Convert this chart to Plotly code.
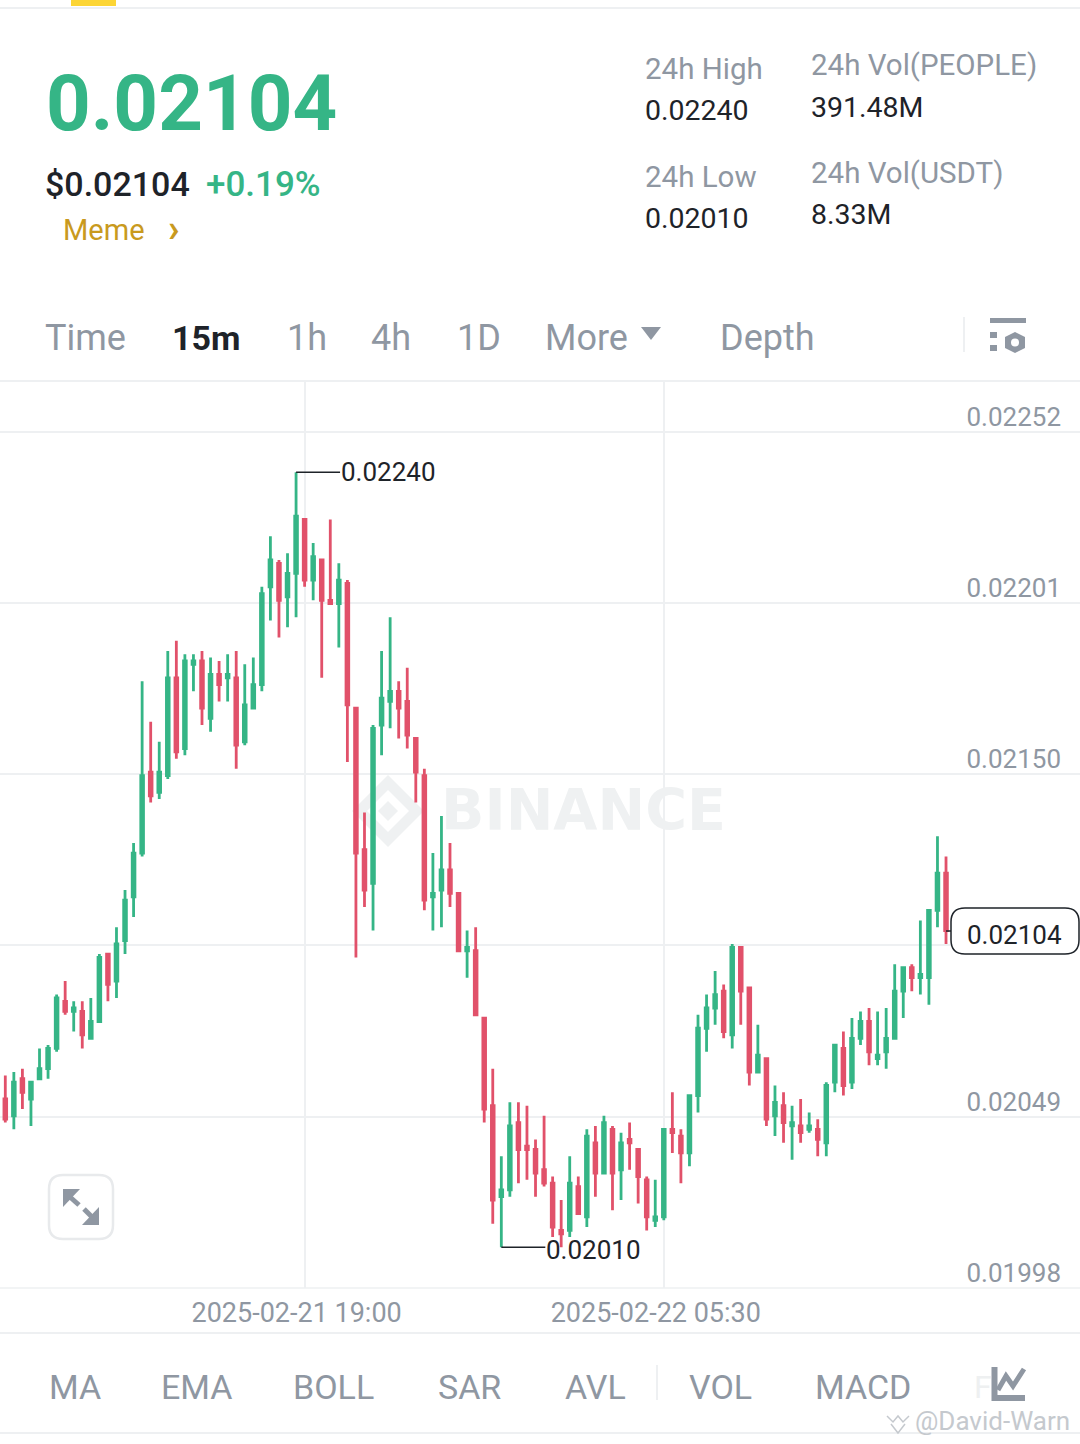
import pandas as pd
import plotly.graph_objects as go

# 15m candles
open_px = [
    0.02054, 0.02049, 0.02060, 0.02054, 0.02060, 0.02063, 0.02069, 0.02083, 0.02080, 0.02080,
    0.02072, 0.02077, 0.02097, 0.02089, 0.02101, 0.02114, 0.02127, 0.02151, 0.02145, 0.02150,
    0.02179, 0.02158, 0.02183, 0.02184, 0.02167, 0.02180, 0.02179, 0.02179, 0.02160, 0.02170,
    0.02177, 0.02206, 0.02213, 0.02203, 0.02210, 0.02226, 0.02208, 0.02214, 0.02202, 0.02201,
    0.02207, 0.02170, 0.02128, 0.02118, 0.02165, 0.02172, 0.02175, 0.02172, 0.02161, 0.02150,
    0.02114, 0.02116, 0.02122, 0.02115, 0.02098, 0.02098, 0.02078, 0.02052, 0.02025, 0.02027,
    0.02047, 0.02040, 0.02039, 0.02033, 0.02029, 0.02015, 0.02015, 0.02028, 0.02019, 0.02041,
    0.02032, 0.02045, 0.02033, 0.02042, 0.02039, 0.02030, 0.02018, 0.02019, 0.02045, 0.02043,
    0.02038, 0.02055, 0.02075, 0.02081, 0.02086, 0.02073, 0.02099, 0.02087, 0.02062, 0.02066,
    0.02049, 0.02052, 0.02046, 0.02046, 0.02045, 0.02045, 0.02041, 0.02059, 0.02069, 0.02059,
    0.02072, 0.02077, 0.02066, 0.02068, 0.02072, 0.02086, 0.02093, 0.02090, 0.02090, 0.02110,
    0.02121,
]
high_px = [
    0.02061, 0.02062, 0.02063, 0.02059, 0.02069, 0.02070, 0.02085, 0.02089, 0.02083, 0.02083,
    0.02084, 0.02097, 0.02097, 0.02105, 0.02116, 0.02130, 0.02178, 0.02166, 0.02160, 0.02187,
    0.02190, 0.02186, 0.02186, 0.02187, 0.02185, 0.02184, 0.02186, 0.02187, 0.02183, 0.02185,
    0.02206, 0.02221, 0.02214, 0.02216, 0.02240, 0.02226, 0.02219, 0.02214, 0.02226, 0.02213,
    0.02208, 0.02170, 0.02139, 0.02165, 0.02187, 0.02197, 0.02178, 0.02182, 0.02161, 0.02152,
    0.02127, 0.02138, 0.02130, 0.02115, 0.02104, 0.02105, 0.02078, 0.02063, 0.02037, 0.02053,
    0.02053, 0.02052, 0.02042, 0.02049, 0.02031, 0.02024, 0.02037, 0.02031, 0.02045, 0.02046,
    0.02049, 0.02046, 0.02044, 0.02047, 0.02039, 0.02031, 0.02030, 0.02045, 0.02056, 0.02045,
    0.02055, 0.02079, 0.02085, 0.02092, 0.02088, 0.02100, 0.02099, 0.02087, 0.02076, 0.02066,
    0.02058, 0.02056, 0.02052, 0.02054, 0.02050, 0.02048, 0.02059, 0.02070, 0.02074, 0.02078,
    0.02080, 0.02081, 0.02080, 0.02081, 0.02094, 0.02093, 0.02094, 0.02107, 0.02110, 0.02132,
    0.02126,
]
low_px = [
    0.02047, 0.02045, 0.02051, 0.02046, 0.02060, 0.02060, 0.02068, 0.02079, 0.02074, 0.02069,
    0.02072, 0.02077, 0.02083, 0.02084, 0.02097, 0.02108, 0.02126, 0.02142, 0.02143, 0.02149,
    0.02155, 0.02156, 0.02175, 0.02165, 0.02163, 0.02172, 0.02172, 0.02152, 0.02159, 0.02170,
    0.02175, 0.02196, 0.02191, 0.02194, 0.02197, 0.02206, 0.02202, 0.02179, 0.02201, 0.02188,
    0.02154, 0.02096, 0.02111, 0.02104, 0.02156, 0.02164, 0.02161, 0.02158, 0.02142, 0.02110,
    0.02104, 0.02105, 0.02111, 0.02098, 0.02090, 0.02079, 0.02047, 0.02017, 0.02010, 0.02025,
    0.02029, 0.02030, 0.02025, 0.02028, 0.02013, 0.02010, 0.02013, 0.02020, 0.02016, 0.02025,
    0.02032, 0.02021, 0.02024, 0.02033, 0.02023, 0.02015, 0.02016, 0.02018, 0.02038, 0.02029,
    0.02034, 0.02050, 0.02068, 0.02076, 0.02072, 0.02069, 0.02076, 0.02058, 0.02062, 0.02046,
    0.02043, 0.02041, 0.02036, 0.02041, 0.02044, 0.02037, 0.02037, 0.02056, 0.02055, 0.02057,
    0.02070, 0.02064, 0.02064, 0.02063, 0.02072, 0.02078, 0.02086, 0.02085, 0.02082, 0.02105,
    0.02100,
]
close_px = [
    0.02048, 0.02059, 0.02056, 0.02059, 0.02063, 0.02069, 0.02084, 0.02080, 0.02081, 0.02073,
    0.02077, 0.02096, 0.02088, 0.02100, 0.02113, 0.02127, 0.02150, 0.02144, 0.02151, 0.02179,
    0.02157, 0.02184, 0.02184, 0.02170, 0.02180, 0.02177, 0.02180, 0.02159, 0.02171, 0.02177,
    0.02204, 0.02214, 0.02202, 0.02210, 0.02227, 0.02208, 0.02215, 0.02202, 0.02201, 0.02208,
    0.02171, 0.02127, 0.02116, 0.02164, 0.02173, 0.02175, 0.02170, 0.02162, 0.02151, 0.02113,
    0.02115, 0.02122, 0.02115, 0.02098, 0.02099, 0.02079, 0.02051, 0.02024, 0.02027, 0.02046,
    0.02039, 0.02039, 0.02032, 0.02029, 0.02016, 0.02014, 0.02029, 0.02020, 0.02043, 0.02032,
    0.02047, 0.02032, 0.02041, 0.02041, 0.02031, 0.02019, 0.02019, 0.02045, 0.02044, 0.02038,
    0.02055, 0.02075, 0.02081, 0.02085, 0.02074, 0.02099, 0.02086, 0.02062, 0.02067, 0.02048,
    0.02053, 0.02047, 0.02047, 0.02044, 0.02046, 0.02042, 0.02058, 0.02070, 0.02058, 0.02072,
    0.02077, 0.02068, 0.02067, 0.02072, 0.02086, 0.02093, 0.02090, 0.02091, 0.02110, 0.02121,
    0.02104,
]

y_ticks = [0.02252, 0.022012, 0.021504, 0.020996, 0.020488, 0.01998]
y_labels = ["0.02252", "0.02201", "0.02150", "0.02100", "0.02049", "0.01998"]
x_ticks = ["2025-02-21 19:00", "2025-02-22 05:30"]

stats = [
    ("24h High", "0.02240", 646, 69, 110),
    ("24h Low", "0.02010", 646, 177, 218),
    ("24h Vol(PEOPLE)", "391.48M", 812, 65, 107),
    ("24h Vol(USDT)", "8.33M", 812, 173, 215),
]
tabs = [("Time", 46), ("1h", 288), ("4h", 372), ("1D", 458), ("More", 546), ("Depth", 721)]
indicators = [("MA", 50), ("EMA", 162), ("BOLL", 294), ("SAR", 439), ("AVL", 566), ("VOL", 690), ("MACD", 816)]

W, H = 1080, 1444
GREEN = "#35B586"
RED = "#E1516A"
GREY = "#8F97A2"
DARK = "#1E2329"
LINE = "#EEF0F2"
FONT = "Roboto"

times = pd.date_range("2025-02-21 10:15", periods=len(open_px), freq="15min")


def px(x):
    return x / W


def py(y):
    return 1 - y / H


def label(x, y, text, size, color, weight=400, anchor="left", family=FONT):
    # annotation boxes sit about 2px right of the asked position
    return dict(xref="paper", yref="paper", x=px(x - 2 if anchor == "left" else x), y=py(y), text=text,
                showarrow=False, xanchor=anchor, yanchor="middle", borderpad=0,
                font=dict(family=family, size=size, color=color, weight=weight))


def hline(x0, x1, y, color=LINE, width=2):
    return dict(type="line", xref="paper", yref="paper", x0=px(x0), x1=px(x1), y0=py(y), y1=py(y),
                line=dict(color=color, width=width), layer="above")


def vline(x, y0, y1, color=LINE, width=2):
    return dict(type="line", xref="paper", yref="paper", x0=px(x), x1=px(x), y0=py(y0), y1=py(y1),
                line=dict(color=color, width=width), layer="above")


def poly(points, fill=None, line=None, width=0, layer="above", close=True):
    d = "M " + " L ".join(f"{px(a):.5f} {py(b):.5f}" for a, b in points)
    if close:
        d += " Z"
    return dict(type="path", xref="paper", yref="paper", path=d, fillcolor=fill or "rgba(0,0,0,0)",
                line=dict(color=line or "rgba(0,0,0,0)", width=width), layer=layer)


def round_box(x0, y0, x1, y1, r, fill, line, width):
    d = (f"M {px(x0 + r)} {py(y0)} L {px(x1 - r)} {py(y0)} Q {px(x1)} {py(y0)} {px(x1)} {py(y0 + r)} "
         f"L {px(x1)} {py(y1 - r)} Q {px(x1)} {py(y1)} {px(x1 - r)} {py(y1)} "
         f"L {px(x0 + r)} {py(y1)} Q {px(x0)} {py(y1)} {px(x0)} {py(y1 - r)} "
         f"L {px(x0)} {py(y0 + r)} Q {px(x0)} {py(y0)} {px(x0 + r)} {py(y0)} Z")
    return dict(type="path", xref="paper", yref="paper", path=d, fillcolor=fill,
                line=dict(color=line, width=width), layer="above")


def diamond(cx, cy, r):
    return [(cx, cy - r), (cx + r, cy), (cx, cy + r), (cx - r, cy)]


fig = go.Figure(go.Candlestick(
    x=times, open=open_px, high=high_px, low=low_px, close=close_px,
    whiskerwidth=0, showlegend=False,
    increasing=dict(line=dict(color=GREEN, width=2.8), fillcolor=GREEN),
    decreasing=dict(line=dict(color=RED, width=2.8), fillcolor=RED),
))

notes = [
    label(47, 104, "0.02104", 78, GREEN, 700),
    label(46, 184, "$0.02104", 34, DARK, 500),
    label(207, 184, "+0.19%", 35, GREEN, 500),
    label(64, 230, "Meme", 29, "#C99A1E"),
    label(169, 228, "›", 38, "#C99A1E", 700),
    label(173, 338, "15m", 34, DARK, 700),
    label(442, 810, "BINANCE", 57, "#EFF1F2", 700, family="DejaVu Sans"),
    label(975, 1387, "F", 32, "#EEF0F1"),
    label(916, 1421, "@David-Warn", 26, "#C5C9CE"),
    label(1014, 935, "0.02104", 26, DARK, 400, "center"),
]
for name, value, x, y0, y1 in stats:
    notes.append(label(x, y0, name, 29.5, GREY))
    notes.append(label(x, y1, value, 28.5, DARK))
for name, x in tabs:
    notes.append(label(x, 338, name, 36, GREY))
for name, x in indicators:
    notes.append(label(x, 1387, name, 34, GREY))

# high and low callouts hang off the candles themselves
hi = high_px.index(max(high_px))
lo = low_px.index(min(low_px))
for i, val, nudge in ((hi, high_px[hi], 0), (lo, low_px[lo], -3)):
    notes.append(dict(x=times[i], y=val, xref="x", yref="y", text=f"{val:.5f}", showarrow=False,
                      xanchor="left", yanchor="middle", xshift=43, yshift=nudge,
                      font=dict(family=FONT, size=26, color=DARK)))

shapes = [
    dict(type="rect", xref="paper", yref="paper", x0=px(71), x1=px(116), y0=py(0), y1=py(6),
         fillcolor="#FCD535", line=dict(width=0), layer="above"),
    hline(0, W, 8),
    hline(0, W, 381),
    hline(0, W, 1288, LINE, 1.5),
    hline(0, W, 1333),
    hline(0, W, 1433),
    vline(964, 317, 352),
    vline(657, 1365, 1400),
    # settings icon
    hline(990, 1026, 320.5, GREY, 5),
    poly([(990, 332), (997, 332), (997, 338), (990, 338)], GREY),
    poly([(990, 345), (997, 345), (997, 351), (990, 351)], GREY),
    poly([(1015, 332), (1025, 337), (1025, 348), (1015, 353), (1005, 348), (1005, 337)], GREY),
    dict(type="circle", xref="paper", yref="paper", x0=px(1011), x1=px(1019), y0=py(338.5), y1=py(346.5),
         fillcolor="white", line=dict(width=0), layer="above"),
    poly([(641, 327), (661, 327), (651, 340)], GREY),
    # expand button
    round_box(49, 1175, 113, 1239, 14, "white", "#E8EAEC", 2.5),
    poly([(63, 1189), (80, 1189), (63, 1207)], GREY),
    poly([(99, 1225), (82, 1225), (99, 1207)], GREY),
    poly([(70, 1197), (79, 1205)], None, GREY, 5, close=False),
    poly([(84, 1209), (92, 1217)], None, GREY, 5, close=False),
    # chart type icon
    poly([(994.5, 1367), (994.5, 1398), (1025, 1398)], None, GREY, 6, close=False),
    poly([(998, 1390), (1006, 1376), (1013, 1386), (1024, 1369)], None, GREY, 5, close=False),
    # small watermark mark
    poly([(887, 1416), (893, 1422), (898, 1416), (903, 1422), (909, 1416)], None, "#C5C9CE", 1.5, close=False),
    poly([(891, 1424), (898, 1433), (905, 1424)], None, "#C5C9CE", 1.5, close=False),
    # faint logo behind the candles
    poly(diamond(388, 811, 36), "#EFF1F2", layer="below"),
    poly(diamond(388, 811, 21), "white", layer="below"),
    poly(diamond(388, 811, 10), "#EFF1F2", layer="below"),
    # last price tag
    hline(946, 952, 931, DARK, 1.5),
    round_box(951, 908, 1079, 954, 14, "white", DARK, 1.5),
]

# callout leaders
for i, val in ((hi, high_px[hi]), (lo, low_px[lo])):
    shapes.append(dict(type="line", xref="x", yref="y", xsizemode="pixel", xanchor=times[i],
                       x0=0, x1=44, y0=val, y1=val, line=dict(color=DARK, width=1.5), layer="above"))

fig.update_layout(
    width=W, height=H,
    margin=dict(l=0, r=0, t=0, b=0),
    paper_bgcolor="white", plot_bgcolor="white",
    showlegend=False,
    boxgap=0.55,
    annotations=notes,
    shapes=shapes,
)
fig.update_xaxes(
    type="date", rangeslider_visible=False,
    range=["2025-02-21 10:05:42", "2025-02-22 17:40:00"],
    tickmode="array", tickvals=x_ticks, ticktext=x_ticks,
    tickfont=dict(family=FONT, size=27, color=GREY),
    ticklabelshift=-8, ticklabelstandoff=6,
    showgrid=True, gridcolor=LINE, gridwidth=1.5,
    showline=False, zeroline=False, ticks="",
)
fig.update_yaxes(
    domain=[py(1288), py(381)],
    range=[0.019979, 0.022671],
    side="right",
    tickmode="array", tickvals=y_ticks, ticktext=y_labels,
    tickfont=dict(family=FONT, size=26, color=GREY),
    ticklabelposition="inside", ticklabelshift=-15, ticklabelstandoff=16,
    showgrid=True, gridcolor=LINE, gridwidth=1.5,
    showline=False, zeroline=False, ticks="",
)

fig.write_html("out.html", config=dict(displayModeBar=False),
               post_script="document.body.style.margin='0';")
